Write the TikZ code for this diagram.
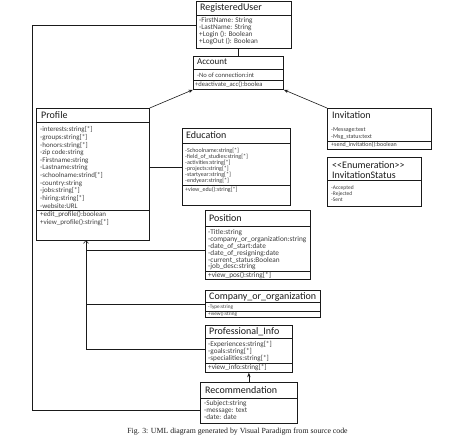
\documentclass[tikz,border=0pt]{standalone}
\usepackage{fontspec}
\usepackage{tikz}
\usetikzlibrary{arrows.meta,positioning,calc}
\newfontfamily\umlfont{Carlito}
\newfontfamily\capfont{Liberation Serif}
\definecolor{ink}{HTML}{1A1A1A}
\definecolor{inkgray}{HTML}{3C3C3C}
\tikzset{
  classbox/.style={draw=ink,line width=0.75pt,anchor=north west,inner sep=0pt},
  classname/.style={anchor=west,inner sep=0pt,text=ink,
                    font=\umlfont\fontsize{#1}{#1}\selectfont},
  classname/.default=10,
  member/.style={anchor=west,inner sep=0pt,text=inkgray,
                 font=\umlfont\fontsize{#1}{#1}\selectfont},
  member/.default=7,
  sepline/.style={draw=ink,line width=0.5pt},
  assocarr/.style={-{Stealth[length=4.5pt,width=3.5pt]},line width=0.6pt,draw=ink},
  genarr/.style={-{Straight Barb[length=3pt,width=5pt]},line width=0.6pt,draw=ink},
  plainlink/.style={line width=0.6pt,draw=ink}
}

\begin{document}
\begin{tikzpicture}[x=1pt,y=-1pt]
  \useasboundingbox (0,0) rectangle (474,439);

  % RegisteredUser
  \node[classbox,minimum width=95pt,minimum height=47pt] (ru) at (196,1) {};
  \node[classname] (ru-t) at (200,8) {RegisteredUser};
  \draw[sepline] (196,15) -- (291,15);
  \foreach \txt [count=\i from 0] in {-FirstName: String,-LastName: String,+Login (): Boolean,+LogOut (): Boolean}
    \node[member=7.2] (ru-a\i) at (199,21+6.7*\i) {\txt};

  % Account
  \node[classbox,minimum width=90pt,minimum height=33pt] (acc) at (193,56) {};
  \node[classname=9] (acc-t) at (197,62) {Account};
  \draw[sepline] (193,69) -- (283,69);
  \node[member=6.6] (acc-a) at (197,75.5) {-No of connection:int};
  \draw[sepline] (193,80) -- (283,80);
  \node[member=6.6] (acc-m) at (195,84.5) {+deactivate\_acc():boolea};

  % Profile
  \node[classbox,minimum width=113pt,minimum height=132pt] (prof) at (36,108) {};
  \node[classname] (prof-t) at (41,115) {Profile};
  \draw[sepline] (36,122) -- (149,122);
  \foreach \txt [count=\i from 0] in {-interests:string[*],-groups:string[*],-honors:string[*],-zip code:string,-Firstname:string,-Lastname:string,-schoolname:strind[*],-country:string,-jobs:string[*],-hiring:string[*],-website:URL}
    \node[member] (prof-a\i) at (40,130+7.6*\i) {\txt};
  \draw[sepline] (36,210) -- (149,210);
  \node[member] (prof-m0) at (40,214.5) {+edit\_profile():boolean};
  \node[member] (prof-m1) at (40,222.5) {+view\_profile():string[*]};

  % Education
  \node[classbox,minimum width=108pt,minimum height=77pt] (edu) at (182,128) {};
  \node[classname] (edu-t) at (186,135) {Education};
  \draw[sepline] (182,143) -- (290,143);
  \foreach \txt [count=\i from 0] in {-Schoolname:string[*],-field\_of\_studies:string[*],-activities:string[*],-projects:string[*],-startyear:string[*],-endyear:string[*]}
    \node[member=6] (edu-a\i) at (185,151+6*\i) {\txt};
  \draw[sepline] (182,185) -- (290,185);
  \node[member=6] (edu-m) at (185,189.5) {+view\_edu():string[*]};

  % Invitation
  \node[classbox,minimum width=104pt,minimum height=41pt] (inv) at (327,108) {};
  \node[classname] (inv-t) at (332,115) {Invitation};
  \node[member=6] (inv-a0) at (331,130) {-Message:text};
  \node[member=6] (inv-a1) at (331,137) {-Msg\_status:text};
  \draw[sepline] (327,141) -- (431,141);
  \node[member=6] (inv-m) at (331,145) {+send\_invitation():boolean};

  % InvitationStatus
  \node[classbox,minimum width=94pt,minimum height=49pt] (enm) at (327,157) {};
  \node[classname] (enm-s) at (332,165) {<{}<Enumeration>{}>};
  \node[classname] (enm-t) at (332,175) {InvitationStatus};
  \draw[sepline] (327,180) -- (421,180);
  \foreach \txt [count=\i from 0] in {-Accepted,-Rejected,-Sent}
    \node[member=5.5] (enm-a\i) at (331,188+6*\i) {\txt};

  % Position
  \node[classbox,minimum width=105pt,minimum height=69pt] (pos) at (205,210) {};
  \node[classname] (pos-t) at (209,218) {Position};
  \draw[sepline] (205,226) -- (310,226);
  \foreach \txt [count=\i from 0] in {-Title:string,-company\_or\_organization:string,-date\_of\_start:date,-date\_of\_resigning:date,-current\_status:Boolean,-job\_desc:string}
    \node[member=7.3] (pos-a\i) at (208,233+6.8*\i) {\txt};
  \draw[sepline] (205,271) -- (310,271);
  \node[member=7.3] (pos-m) at (208,275) {+view\_pos():string[*]};

  % Company_or_organization
  \node[classbox,minimum width=115pt,minimum height=27pt] (comp) at (205,290) {};
  \node[classname] (comp-t) at (209,297) {Company\_or\_organization};
  \draw[sepline] (205,302) -- (320,302);
  \node[member=5.2] (comp-a) at (208,307.5) {-Type:string};
  \draw[sepline] (205,311.5) -- (320,311.5);
  \node[member=5.2] (comp-m) at (208,314.5) {+view():string};

  % Professional_Info
  \node[classbox,minimum width=87pt,minimum height=47pt] (pinfo) at (205,325) {};
  \node[classname] (pinfo-t) at (209,332) {Professional\_Info};
  \draw[sepline] (205,338) -- (292,338);
  \foreach \txt [count=\i from 0] in {-Experiences:string[*],-goals:string[*],-specialities:string[*]}
    \node[member=7.2] (pinfo-a\i) at (208,345+7*\i) {\txt};
  \draw[sepline] (205,363) -- (292,363);
  \node[member=7.2] (pinfo-m) at (208,367.5) {+view\_info:string[*]};

  % Recommendation
  \node[classbox,minimum width=97pt,minimum height=41pt] (rec) at (200,382) {};
  \node[classname] (rec-t) at (205,390) {Recommendation};
  \draw[sepline] (200,398) -- (297,398);
  \foreach \txt [count=\i from 0] in {-Subject:string,-message: text,-date: date}
    \node[member=7.2] (rec-a\i) at (204,404+6.5*\i) {\txt};

  % links
  \draw[plainlink] (acc.north) -- (acc.north |- ru.south);
  \coordinate (bend) at (32,410);
  \draw[plainlink] (ru.west) -| (bend) -- (bend -| rec.west);
  \draw[assocarr] (prof.north east) -- (acc.south west);
  \draw[assocarr] (inv.north west) -- (acc.south east);
  \draw[plainlink] (edu.west) -- (edu.west -| prof.east);
  \coordinate (trunk) at (86,240);
  \draw[genarr] (pinfo.west) -| (trunk);
  \draw[plainlink] ([yshift=-5.5pt]pos.west) -- ([yshift=-5.5pt]pos.west -| trunk);
  \draw[plainlink] (comp.west) -- (comp.west -| trunk);
  \draw[assocarr] (rec.north) -- (pinfo.south);

  \node[font=\capfont\fontsize{7.8}{9}\selectfont,text=ink] (cap) at (237.5,432)
    {Fig. 3: UML diagram generated by Visual Paradigm from source code};
\end{tikzpicture}
\end{document}
